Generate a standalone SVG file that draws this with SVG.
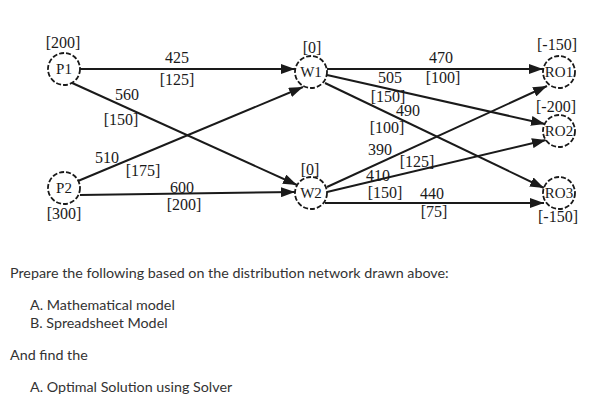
<svg xmlns="http://www.w3.org/2000/svg" width="599" height="403" viewBox="0 0 599 403">
<style>
.n{fill:#fff;stroke:#1a1a1a;stroke-width:1.8;stroke-dasharray:5,2}
.t{font-family:"Liberation Serif","Times New Roman",serif;font-size:16px;fill:#1a1a1a;text-anchor:middle}
.nt{font-family:"Liberation Serif","Times New Roman",serif;font-size:15px;fill:#1a1a1a;text-anchor:middle}
.e{stroke:#1a1a1a;stroke-width:2;fill:none;marker-end:url(#ah)}
.q{font-family:Lato,"Open Sans",sans-serif;font-size:14.3px;fill:#333}
</style>
<defs>
<marker id="ah" markerUnits="userSpaceOnUse" markerWidth="14" markerHeight="10" refX="14" refY="5" orient="auto">
<path d="M0,0 L14,5 L0,10 z" fill="#1a1a1a"/>
</marker>
</defs>
<rect width="599" height="403" fill="#fff"/>
<g id="connectors">
<line class="e" x1="80" y1="69" x2="295" y2="69"/>
<line class="e" x1="70" y1="82" x2="297" y2="185"/>
<line class="e" x1="78" y1="181" x2="303" y2="87"/>
<line class="e" x1="80" y1="195" x2="295" y2="192"/>
<line class="e" x1="327" y1="69" x2="543" y2="69"/>
<line class="e" x1="327" y1="75" x2="545" y2="124"/>
<line class="e" x1="325" y1="83" x2="544" y2="188"/>
<line class="e" x1="327" y1="187" x2="547" y2="86"/>
<line class="e" x1="327" y1="192" x2="546" y2="140"/>
<line class="e" x1="325" y1="203" x2="544" y2="203"/>
</g>
<g id="edge-labels">
<text class="t" x="177" y="63">425</text>
<text class="t" x="177" y="85">[125]</text>
<text class="t" x="127" y="100">560</text>
<text class="t" x="121" y="125">[150]</text>
<text class="t" x="107" y="163">510</text>
<text class="t" x="143" y="176">[175]</text>
<text class="t" x="182" y="193">600</text>
<text class="t" x="184" y="210">[200]</text>
<text class="t" x="441" y="63">470</text>
<text class="t" x="443" y="83">[100]</text>
<text class="t" x="390" y="83">505</text>
<text class="t" x="388" y="102">[150]</text>
<text class="t" x="408" y="116">490</text>
<text class="t" x="387" y="133">[100]</text>
<text class="t" x="380" y="155">390</text>
<text class="t" x="417" y="167">[125]</text>
<text class="t" x="378" y="181">410</text>
<text class="t" x="385" y="198">[150]</text>
<text class="t" x="432" y="199">440</text>
<text class="t" x="434" y="217">[75]</text>
</g>
<g id="P1">
<circle class="n" cx="64" cy="69" r="16"/>
<text class="nt" x="64" y="74">P1</text>
<text class="t" x="63" y="48">[200]</text>
</g>
<g id="P2">
<circle class="n" cx="64" cy="188" r="16"/>
<text class="nt" x="64" y="193">P2</text>
<text class="t" x="64" y="219">[300]</text>
</g>
<g id="W1">
<circle class="n" cx="311" cy="72" r="16"/>
<text class="nt" x="311" y="77">W1</text>
<text class="t" x="312" y="53">[0]</text>
</g>
<g id="W2">
<circle class="n" cx="311" cy="193" r="16"/>
<text class="nt" x="311" y="198">W2</text>
<text class="t" x="310" y="175">[0]</text>
</g>
<g id="RO1">
<circle class="n" cx="559" cy="72" r="16"/>
<text class="nt" x="559" y="77" font-size="14">RO1</text>
<text class="t" x="557" y="50">[-150]</text>
</g>
<g id="RO2">
<circle class="n" cx="559" cy="131" r="16"/>
<text class="nt" x="559" y="136" font-size="14">RO2</text>
<text class="t" x="556" y="112">[-200]</text>
</g>
<g id="RO3">
<circle class="n" cx="559" cy="193" r="16"/>
<text class="nt" x="559" y="198" font-size="14">RO3</text>
<text class="t" x="558" y="222">[-150]</text>
</g>
<g id="question">
<text class="q" x="10" y="278">Prepare the following based on the distribution network drawn above:</text>
<text class="q" x="30" y="310">A. Mathematical model</text>
<text class="q" x="30" y="328">B. Spreadsheet Model</text>
<text class="q" x="10" y="360">And find the</text>
<text class="q" x="30" y="392">A. Optimal Solution using Solver</text>
</g>
</svg>
